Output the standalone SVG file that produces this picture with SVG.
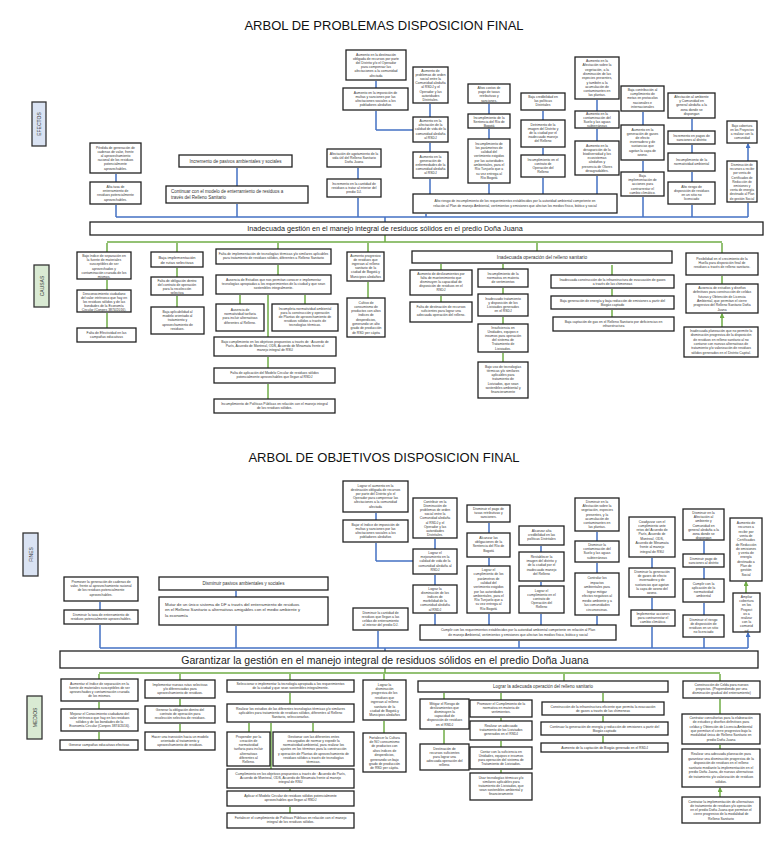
<svg xmlns="http://www.w3.org/2000/svg" width="768" height="866" viewBox="0 0 768 866">
<style>
.b{fill:#fff;stroke:#222;stroke-width:1.3}
.t{font-family:"Liberation Sans",Arial,sans-serif;font-size:3.4px;fill:#333;text-anchor:middle}
.tl{font-family:"Liberation Sans",Arial,sans-serif;fill:#333}
.h{font-family:"Liberation Sans",Arial,sans-serif;font-size:13px;fill:#111;text-anchor:middle}
.lb{fill:#dae3f3;stroke:#333;stroke-width:1.3}
.lg{fill:#d9ead3;stroke:#333;stroke-width:1.3}
.bl{stroke:#4472c4;stroke-width:1.5;fill:none}
.gl{stroke:#70ad47;stroke-width:1.5;fill:none}
.ba{stroke:#4472c4;stroke-width:1.5;fill:none;marker-end:url(#ab)}
.ga{stroke:#70ad47;stroke-width:1.5;fill:none;marker-end:url(#ag)}
</style>
<defs>
<marker id="ab" markerWidth="5" markerHeight="5" refX="4" refY="2.5" orient="auto" markerUnits="userSpaceOnUse"><path d="M0,0 L5,2.5 L0,5 z" fill="#4472c4"/></marker>
<marker id="ag" markerWidth="5" markerHeight="5" refX="4" refY="2.5" orient="auto" markerUnits="userSpaceOnUse"><path d="M0,0 L5,2.5 L0,5 z" fill="#70ad47"/></marker>
</defs>
<rect width="768" height="866" fill="#fff"/>
<text class="h" x="384" y="30">ARBOL DE PROBLEMAS DISPOSICION FINAL</text>
<text class="h" x="384" y="462">ARBOL DE OBJETIVOS DISPOSICION FINAL</text>

<g id="label-efectos"><rect class="lb" x="32" y="102" width="14" height="44"/><text class="tl" font-size="5" text-anchor="middle" transform="translate(41,124) rotate(-90)">EFECTOS</text></g>
<g id="label-causas"><rect class="lg" x="34" y="265" width="15" height="42"/><text class="tl" font-size="5" text-anchor="middle" transform="translate(43.5,286) rotate(-90)">CAUSAS</text></g>
<g id="label-fines"><rect class="lb" x="23" y="533" width="15" height="43"/><text class="tl" font-size="5" text-anchor="middle" transform="translate(32.5,554.5) rotate(-90)">FINES</text></g>
<g id="label-medios"><rect class="lg" x="27" y="696" width="15" height="43"/><text class="tl" font-size="5" text-anchor="middle" transform="translate(36.5,717.5) rotate(-90)">MEDIOS</text></g>

<g id="connectors">
<path class="bl" d="M116,217 H748 M385,222 V217 M376,130 H413"/>
<path class="ba" d="M116,217 V205 M116,182 V174 M237,217 V204 M237,186 V168 M358,217 V198 M358,179 V168 M376,130 V111 M376,88 V81 M426,217 V214 M430,194 V179 M430,152 V143 M430,117 V104 M489,194 V184 M489,139 V129 M489,114 V104 M543,194 V178 M543,155 V148 M543,120 V111 M597,194 V176 M597,141 V129 M597,111 V100 M643,217 V197 M643,172 V161 M643,125 V112 M692,217 V205 M692,182 V172 M692,153 V145 M692,131 V119 M748,217 V203 M748,161 V144"/>
<path class="gl" d="M107,242 H722 M385,235 V242"/>
<path class="ga" d="M107,252 V243 M107,290 V280 M107,328 V313 M177,252 V243 M177,277 V268 M177,307 V296 M278,249 V243 M278,275 V265 M240,304 V295 M305,304 V295 M268,337 V295 M268,368 V357 M268,399 V384 M368,252 V243 M368,298 V282 M537,251 V243 M441,270 V264 M441,302 V296 M503,269 V264 M503,294 V288 M503,324 V317 M503,362 V353 M612,275 V265 M612,296 V289 M612,317 V310 M722,253 V243 M722,284 V276 M722,327 V314"/>
<path class="bl" d="M100,648 H748 M385,651 V648 M376,561 H413"/>
<path class="ba" d="M100,648 V625 M100,610 V602 M236,648 V626 M236,597 V591 M378,648 V631 M376,561 V543 M376,520 V513 M519,648 V641 M435,625 V614 M435,585 V575 M435,549 V539 M489,625 V614 M489,566 V558 M489,533 V523 M541,625 V614 M541,586 V582 M541,552 V546 M597,625 V616 M597,573 V563 M597,541 V532 M652,648 V627 M652,610 V598 M652,568 V558 M704,648 V638 M704,615 V603 M704,579 V568 M704,554 V541 M748,648 V633"/>
<path class="ga" d="M746,593 V582"/>
<path class="gl" d="M99,673 H720 M385,668 V673"/>
<path class="ga" d="M99,679 V674 M99,709 V702 M99,740 V732 M180,680 V674 M180,706 V699 M180,732 V724 M290,680 V674 M290,704 V693 M249,732 V723 M313,732 V723 M271,769 V723 M290,791 V789 M290,813 V807 M384,680 V674 M384,733 V721 M564,681 V674 M444,699 V693 M444,744 V730 M501,700 V693 M501,721 V718 M501,747 V741 M501,773 V770 M603,702 V693 M603,722 V716 M603,743 V736 M720,681 V674 M720,714 V699 M720,749 V745 M720,797 V788"/>
</g>

<g id="A1"><rect class="b" x="90" y="143" width="51" height="30"/><text class="t" x="115.5" y="148.5"><tspan x="115.5">Pérdida de generación de</tspan><tspan x="115.5" dy="4.2">cadenas de valor, frente</tspan><tspan x="115.5" dy="4.2">al aprovechamiento</tspan><tspan x="115.5" dy="4.2">racional de los residuos</tspan><tspan x="115.5" dy="4.2">potencialmente</tspan><tspan x="115.5" dy="4.2">aprovechables.</tspan></text></g>
<g id="A2"><rect class="b" x="90" y="182" width="51" height="22"/><text class="t" x="115.5" y="188"><tspan x="115.5">Alta tasa de</tspan><tspan x="115.5" dy="4.2">enterramiento de</tspan><tspan x="115.5" dy="4.2">residuos potencialmente</tspan><tspan x="115.5" dy="4.2">aprovechables.</tspan></text></g>
<g id="B1"><rect class="b" x="179" y="155" width="113" height="12"/><text class="t" style="font-size:4.5px" x="235.5" y="162.5">Incremento de pasivos ambientales y sociales</text></g>
<g id="B2"><rect class="b" x="166" y="186" width="142" height="17"/><text class="tl" font-size="4.5" x="171" y="193">Continuar con el modelo de enterramiento de residuos a<tspan x="171" dy="5.5">través del Relleno Sanitario</tspan></text></g>
<g id="C1"><rect class="b" x="327" y="149" width="54" height="18"/><text class="t" x="354" y="155"><tspan x="354">Afectación de agotamiento de la</tspan><tspan x="354" dy="4.2">vida útil del Relleno Sanitario</tspan><tspan x="354" dy="4.2">Doña Juana</tspan></text></g>
<g id="C2"><rect class="b" x="327" y="179" width="54" height="18"/><text class="t" x="354" y="185"><tspan x="354">Incremento en la cantidad de</tspan><tspan x="354" dy="4.2">residuos a tratar al interior del</tspan><tspan x="354" dy="4.2">predio DJ.</tspan></text></g>
<g id="D1"><rect class="b" x="346" y="50" width="60" height="30"/><text class="t" x="376" y="55.5"><tspan x="376">Aumento en la destinación</tspan><tspan x="376" dy="4.2">obligada de recursos por parte</tspan><tspan x="376" dy="4.2">del Distrito y/o el Operador</tspan><tspan x="376" dy="4.2">para compensar las</tspan><tspan x="376" dy="4.2">afectaciones a la comunidad</tspan><tspan x="376" dy="4.2">afectada</tspan></text></g>
<g id="D2"><rect class="b" x="343" y="88" width="65" height="22"/><text class="t" x="375.5" y="93.5"><tspan x="375.5">Aumento en la imposición de</tspan><tspan x="375.5" dy="4.2">multas y sanciones por las</tspan><tspan x="375.5" dy="4.2">afectaciones sociales a los</tspan><tspan x="375.5" dy="4.2">pobladores aledaños</tspan></text></g>
<g id="E1"><rect class="b" x="413" y="67" width="35" height="36"/><text class="t" x="430.5" y="71.5"><tspan x="430.5">Aumento de</tspan><tspan x="430.5" dy="4.2">problemas de orden</tspan><tspan x="430.5" dy="4.2">social entre la</tspan><tspan x="430.5" dy="4.2">Comunidad aledaña</tspan><tspan x="430.5" dy="4.2">al RSDJ y el</tspan><tspan x="430.5" dy="4.2">Operador y las</tspan><tspan x="430.5" dy="4.2">autoridades</tspan><tspan x="430.5" dy="4.2">Distritales.</tspan></text></g>
<g id="E2"><rect class="b" x="413" y="117" width="35" height="25"/><text class="t" x="430.5" y="122"><tspan x="430.5">Aumento en la</tspan><tspan x="430.5" dy="4.2">afectación de la</tspan><tspan x="430.5" dy="4.2">calidad de vida de la</tspan><tspan x="430.5" dy="4.2">comunidad aledaña</tspan><tspan x="430.5" dy="4.2">al RSDJ</tspan></text></g>
<g id="E3"><rect class="b" x="413" y="152" width="35" height="26"/><text class="t" x="430.5" y="157.5"><tspan x="430.5">Aumento en la</tspan><tspan x="430.5" dy="4.2">generación de</tspan><tspan x="430.5" dy="4.2">enfermedades de la</tspan><tspan x="430.5" dy="4.2">comunidad aledaña</tspan><tspan x="430.5" dy="4.2">al RSDJ</tspan></text></g>
<g id="F1"><rect class="b" x="468" y="84" width="42" height="19"/><text class="t" x="489" y="89"><tspan x="489">Altos costos de</tspan><tspan x="489" dy="4.2">pago de tasas</tspan><tspan x="489" dy="4.2">retributivas y</tspan><tspan x="489" dy="4.2">sanciones.</tspan></text></g>
<g id="F2"><rect class="b" x="468" y="114" width="42" height="14"/><text class="t" x="489" y="118.5"><tspan x="489">Incumplimiento de la</tspan><tspan x="489" dy="4.2">Sentencia del Río de</tspan><tspan x="489" dy="4.2">Bogotá</tspan></text></g>
<g id="F3"><rect class="b" x="468" y="139" width="42" height="44"/><text class="t" x="489" y="144.5"><tspan x="489">Incumplimiento de</tspan><tspan x="489" dy="4.3">los parámetros de</tspan><tspan x="489" dy="4.3">calidad del</tspan><tspan x="489" dy="4.3">vertimiento exigidos</tspan><tspan x="489" dy="4.3">por las autoridades</tspan><tspan x="489" dy="4.3">ambientales, para el</tspan><tspan x="489" dy="4.3">Río Tunjuelo que a</tspan><tspan x="489" dy="4.3">su vez entrega al</tspan><tspan x="489" dy="4.3">Río Bogotá</tspan></text></g>
<g id="G1"><rect class="b" x="521" y="93" width="44" height="17"/><text class="t" x="543" y="98"><tspan x="543">Baja credibilidad en</tspan><tspan x="543" dy="4.2">las políticas</tspan><tspan x="543" dy="4.2">Distritales</tspan></text></g>
<g id="G2"><rect class="b" x="521" y="120" width="44" height="27"/><text class="t" x="543" y="125.5"><tspan x="543">Detrimento de la</tspan><tspan x="543" dy="4.2">imagen del Distrito y</tspan><tspan x="543" dy="4.2">de la ciudad por el</tspan><tspan x="543" dy="4.2">inadecuado manejo</tspan><tspan x="543" dy="4.2">del Relleno</tspan></text></g>
<g id="G3"><rect class="b" x="521" y="155" width="44" height="22"/><text class="t" x="543" y="160.5"><tspan x="543">Incumplimiento en el</tspan><tspan x="543" dy="4.2">contrato de</tspan><tspan x="543" dy="4.2">Operación del</tspan><tspan x="543" dy="4.2">Relleno</tspan></text></g>
<g id="H1"><rect class="b" x="575" y="57" width="44" height="42"/><text class="t" x="597" y="62"><tspan x="597">Aumento en la</tspan><tspan x="597" dy="4.3">Afectación sobre la</tspan><tspan x="597" dy="4.3">vegetación, a la</tspan><tspan x="597" dy="4.3">disminución de las</tspan><tspan x="597" dy="4.3">especies presentes,</tspan><tspan x="597" dy="4.3">y también a la</tspan><tspan x="597" dy="4.3">acumulación de</tspan><tspan x="597" dy="4.3">contaminantes en</tspan><tspan x="597" dy="4.3">las plantas.</tspan></text></g>
<g id="H2"><rect class="b" x="575" y="111" width="44" height="17"/><text class="t" x="597" y="115.2"><tspan x="597">Aumento en la</tspan><tspan x="597" dy="3.9">contaminación del</tspan><tspan x="597" dy="3.9">Suelo y las aguas</tspan><tspan x="597" dy="3.9">subterráneas</tspan></text></g>
<g id="H3"><rect class="b" x="575" y="141" width="44" height="34"/><text class="t" x="597" y="146.5"><tspan x="597">Aumento en la</tspan><tspan x="597" dy="4.2">desaparición de la</tspan><tspan x="597" dy="4.2">biodiversidad y los</tspan><tspan x="597" dy="4.2">ecosistemas</tspan><tspan x="597" dy="4.2">aledaños y</tspan><tspan x="597" dy="4.2">presencia de Olores</tspan><tspan x="597" dy="4.2">desagradables.</tspan></text></g>
<g id="I1"><rect class="b" x="621" y="86" width="43" height="25"/><text class="t" x="642.5" y="91"><tspan x="642.5">Baja contribución al</tspan><tspan x="642.5" dy="4.2">cumplimiento de</tspan><tspan x="642.5" dy="4.2">metas en protocolos</tspan><tspan x="642.5" dy="4.2">nacionales e</tspan><tspan x="642.5" dy="4.2">internacionales</tspan></text></g>
<g id="I2"><rect class="b" x="621" y="125" width="43" height="35"/><text class="t" x="642.5" y="130.5"><tspan x="642.5">Aumento en la</tspan><tspan x="642.5" dy="4.2">generación de gases</tspan><tspan x="642.5" dy="4.2">de efecto</tspan><tspan x="642.5" dy="4.2">invernadero y de</tspan><tspan x="642.5" dy="4.2">sustancias que</tspan><tspan x="642.5" dy="4.2">agotan la capa de</tspan><tspan x="642.5" dy="4.2">ozono.</tspan></text></g>
<g id="I3"><rect class="b" x="621" y="172" width="43" height="24"/><text class="t" x="642.5" y="177"><tspan x="642.5">Baja</tspan><tspan x="642.5" dy="4.2">implementación de</tspan><tspan x="642.5" dy="4.2">acciones para</tspan><tspan x="642.5" dy="4.2">contrarrestar el</tspan><tspan x="642.5" dy="4.2">cambio climático.</tspan></text></g>
<g id="J1"><rect class="b" x="668" y="93" width="47" height="25"/><text class="t" x="691.5" y="98"><tspan x="691.5">Afectación al ambiente</tspan><tspan x="691.5" dy="4.2">y Comunidad en</tspan><tspan x="691.5" dy="4.2">general aledaña a la</tspan><tspan x="691.5" dy="4.2">zona donde se</tspan><tspan x="691.5" dy="4.2">dispongan</tspan></text></g>
<g id="J2"><rect class="b" x="668" y="131" width="47" height="13"/><text class="t" x="691.5" y="136.5"><tspan x="691.5">Incremento en pagos de</tspan><tspan x="691.5" dy="4.2">sanciones al distrito</tspan></text></g>
<g id="J3"><rect class="b" x="668" y="153" width="47" height="18"/><text class="t" x="691.5" y="161"><tspan x="691.5">Incumplimiento de la</tspan><tspan x="691.5" dy="4.2">normatividad ambiental</tspan></text></g>
<g id="J4"><rect class="b" x="668" y="182" width="47" height="22"/><text class="t" x="691.5" y="187.5"><tspan x="691.5">Alto riesgo de</tspan><tspan x="691.5" dy="4.2">disposición de residuos</tspan><tspan x="691.5" dy="4.2">en un sitio no</tspan><tspan x="691.5" dy="4.2">licenciado</tspan></text></g>
<g id="K1"><rect class="b" x="727" y="121" width="30" height="22"/><text class="t" style="font-size:3.2px" x="742" y="126.5"><tspan x="742">Bajo cobertura</tspan><tspan x="742" dy="4.2">en los Proyectos</tspan><tspan x="742" dy="4.2">a realizar con la</tspan><tspan x="742" dy="4.2">comunidad</tspan></text></g>
<g id="K2"><rect class="b" x="727" y="161" width="30" height="41"/><text class="t" style="font-size:3.2px" x="742" y="166"><tspan x="742">Disminución de</tspan><tspan x="742" dy="4.2">recursos a recibir</tspan><tspan x="742" dy="4.2">por venta de</tspan><tspan x="742" dy="4.2">Certificados de</tspan><tspan x="742" dy="4.2">Reducción de</tspan><tspan x="742" dy="4.2">emisiones y</tspan><tspan x="742" dy="4.2">venta de energía</tspan><tspan x="742" dy="4.2">destinado al Plan</tspan><tspan x="742" dy="4.2">de gestión Social</tspan></text></g>
<g id="L"><rect class="b" x="413" y="194" width="204" height="19"/><text class="t" x="515" y="202"><tspan x="515">Alto riesgo de incumplimiento de los requerimientos establecidos por la autoridad ambiental competente en</tspan><tspan x="515" dy="5">relación al Plan de manejo Ambiental, vertimientos y emisiones que afectan los medios físico, biótico y social</tspan></text></g>
<g id="P0"><rect class="b" x="90" y="222" width="673" height="13"/><text class="t" style="font-size:7.2px;fill:#222" x="385" y="231">Inadecuada gestión en el manejo integral de residuos sólidos en el predio Doña Juana</text></g>

<g id="c1a"><rect class="b" x="77" y="252" width="54" height="27"/><text class="t" x="104" y="257"><tspan x="104">Bajo índice de separación en</tspan><tspan x="104" dy="4.2">la fuente de materiales</tspan><tspan x="104" dy="4.2">susceptibles de ser</tspan><tspan x="104" dy="4.2">aprovechados y</tspan><tspan x="104" dy="4.2">contaminación cruzada de los</tspan><tspan x="104" dy="4.2">mismos.</tspan></text></g>
<g id="c1b"><rect class="b" x="77" y="290" width="54" height="22"/><text class="t" x="104" y="294.5"><tspan x="104">Desconocimiento ciudadano</tspan><tspan x="104" dy="4.2">del valor intrínseco que hay en</tspan><tspan x="104" dy="4.2">los residuos sólidos y de las</tspan><tspan x="104" dy="4.2">bondades de la Economía</tspan><tspan x="104" dy="4.2">Circular (Conpes 3874/2016).</tspan></text></g>
<g id="c1c"><rect class="b" x="77" y="328" width="59" height="14"/><text class="t" x="106.5" y="334"><tspan x="106.5">Falta de Efectividad en las</tspan><tspan x="106.5" dy="4.2">campañas educativas</tspan></text></g>
<g id="c2a"><rect class="b" x="151" y="252" width="52" height="15"/><text class="t" style="font-size:4px" x="177" y="258.5"><tspan x="177">Baja implementación</tspan><tspan x="177" dy="5">de rutas selectivas</tspan></text></g>
<g id="c2b"><rect class="b" x="151" y="277" width="52" height="18"/><text class="t" x="177" y="281.5"><tspan x="177">Falta de obligación dentro</tspan><tspan x="177" dy="4.2">del contrato de operación</tspan><tspan x="177" dy="4.2">para la recolección</tspan><tspan x="177" dy="4.2">selectiva</tspan></text></g>
<g id="c2c"><rect class="b" x="151" y="307" width="53" height="27"/><text class="t" x="177.5" y="313"><tspan x="177.5">Baja aplicabilidad al</tspan><tspan x="177.5" dy="4.2">modelo orientado al</tspan><tspan x="177.5" dy="4.2">tratamiento y</tspan><tspan x="177.5" dy="4.2">aprovechamiento de</tspan><tspan x="177.5" dy="4.2">residuos.</tspan></text></g>
<g id="c3a"><rect class="b" x="216" y="249" width="115" height="15"/><text class="t" x="273.5" y="255"><tspan x="273.5">Falta de implementación de tecnologías térmicas y/o similares aplicables</tspan><tspan x="273.5" dy="4.2">para tratamiento de residuos sólidos, diferentes a Relleno Sanitario</tspan></text></g>
<g id="c3b"><rect class="b" x="216" y="275" width="115" height="19"/><text class="t" x="273.5" y="280.5"><tspan x="273.5">Ausencia de Estudios que nos permitan conocer e implementar</tspan><tspan x="273.5" dy="4.2">tecnologías apropiadas a los requerimientos de la ciudad y que sean</tspan><tspan x="273.5" dy="4.2">sostenibles integralmente.</tspan></text></g>
<g id="c3c"><rect class="b" x="216" y="304" width="48" height="27"/><text class="t" x="240" y="311"><tspan x="240">Ausencia de</tspan><tspan x="240" dy="4.2">normatividad tarifaria</tspan><tspan x="240" dy="4.2">para incluir alternativas</tspan><tspan x="240" dy="4.2">diferentes al Relleno.</tspan></text></g>
<g id="c3d"><rect class="b" x="272" y="304" width="66" height="27"/><text class="t" x="305" y="309.5"><tspan x="305">Incompleta normatividad ambiental</tspan><tspan x="305" dy="4.2">para la construcción y operación</tspan><tspan x="305" dy="4.2">de Plantas de aprovechamiento de</tspan><tspan x="305" dy="4.2">residuos sólidos a través de</tspan><tspan x="305" dy="4.2">tecnologías térmicas.</tspan></text></g>
<g id="c3e"><rect class="b" x="214" y="337" width="122" height="19"/><text class="t" x="275" y="342.5"><tspan x="275">Bajo cumplimiento en los objetivos propuestos a través de : Acuerdo de</tspan><tspan x="275" dy="4.2">París, Acuerdo de Montreal, ODS, Acuerdo de Minamata frente al</tspan><tspan x="275" dy="4.2">manejo integral de RSU</tspan></text></g>
<g id="c3f"><rect class="b" x="214" y="368" width="121" height="15"/><text class="t" x="274.5" y="374"><tspan x="274.5">Falta de aplicación del Modelo Circular de residuos sólidos</tspan><tspan x="274.5" dy="4.2">potencialmente aprovechables que llegan al RSDJ</tspan></text></g>
<g id="c3g"><rect class="b" x="214" y="399" width="121" height="14"/><text class="t" x="274.5" y="404.5"><tspan x="274.5">Incumplimiento de Políticas Públicas en relación con el manejo integral</tspan><tspan x="274.5" dy="4.2">de los residuos sólidos.</tspan></text></g>
<g id="c4a"><rect class="b" x="347" y="252" width="37" height="29"/><text class="t" x="365.5" y="256.5"><tspan x="365.5">Aumento progresivo</tspan><tspan x="365.5" dy="4.2">de residuos que</tspan><tspan x="365.5" dy="4.2">ingresan al relleno</tspan><tspan x="365.5" dy="4.2">sanitario de la</tspan><tspan x="365.5" dy="4.2">ciudad de Bogotá y</tspan><tspan x="365.5" dy="4.2">Municipios aledaños</tspan></text></g>
<g id="c4b"><rect class="b" x="347" y="298" width="38" height="39"/><text class="t" x="366" y="303.5"><tspan x="366">Cultivo de</tspan><tspan x="366" dy="4.3">consumismo de</tspan><tspan x="366" dy="4.3">productos con altos</tspan><tspan x="366" dy="4.3">índices de</tspan><tspan x="366" dy="4.3">desperdicios,</tspan><tspan x="366" dy="4.3">generando un alto</tspan><tspan x="366" dy="4.3">grado de producción</tspan><tspan x="366" dy="4.3">de RSD per cápita</tspan></text></g>
<g id="c5"><rect class="b" x="412" y="251" width="260" height="12"/><text class="t" style="font-size:4.8px" x="542" y="258.5">Inadecuada operación del relleno sanitario</text></g>
<g id="c5a"><rect class="b" x="410" y="270" width="62" height="25"/><text class="t" x="441" y="274.5"><tspan x="441">Aumento de deslizamientos por</tspan><tspan x="441" dy="4.2">falta de mantenimiento que</tspan><tspan x="441" dy="4.2">disminuyen la capacidad de</tspan><tspan x="441" dy="4.2">disposición de residuos en el</tspan><tspan x="441" dy="4.2">RSDJ</tspan></text></g>
<g id="c5b"><rect class="b" x="410" y="302" width="62" height="20"/><text class="t" x="441" y="308"><tspan x="441">Falta de destinación de recursos</tspan><tspan x="441" dy="4.2">suficientes para lograr una</tspan><tspan x="441" dy="4.2">adecuada operación del relleno.</tspan></text></g>
<g id="c5c"><rect class="b" x="478" y="269" width="50" height="18"/><text class="t" x="503" y="274.5"><tspan x="503">Incumplimiento de la</tspan><tspan x="503" dy="4.2">normativa en materia</tspan><tspan x="503" dy="4.2">de vertimientos</tspan></text></g>
<g id="c5d"><rect class="b" x="478" y="294" width="50" height="22"/><text class="t" x="503" y="299.5"><tspan x="503">Inadecuado tratamiento</tspan><tspan x="503" dy="4.2">y disposición de los</tspan><tspan x="503" dy="4.2">Lixiviados generados</tspan><tspan x="503" dy="4.2">en el RSDJ</tspan></text></g>
<g id="c5e"><rect class="b" x="478" y="324" width="50" height="28"/><text class="t" x="503" y="328.5"><tspan x="503">Insuficiencia en</tspan><tspan x="503" dy="4.2">Unidades, equipos e</tspan><tspan x="503" dy="4.2">insumos para operación</tspan><tspan x="503" dy="4.2">del sistema de</tspan><tspan x="503" dy="4.2">Tratamiento de</tspan><tspan x="503" dy="4.2">Lixiviados.</tspan></text></g>
<g id="c5f"><rect class="b" x="478" y="362" width="50" height="36"/><text class="t" x="503" y="367.5"><tspan x="503">Bajo uso de tecnologías</tspan><tspan x="503" dy="4.3">térmicas y/o similares</tspan><tspan x="503" dy="4.3">aplicables para</tspan><tspan x="503" dy="4.3">tratamiento de</tspan><tspan x="503" dy="4.3">Lixiviados, que sean</tspan><tspan x="503" dy="4.3">sostenibles ambiental y</tspan><tspan x="503" dy="4.3">financieramente</tspan></text></g>
<g id="c5g"><rect class="b" x="551" y="275" width="123" height="13"/><text class="t" x="612.5" y="280.5"><tspan x="612.5">Inadecuada construcción de la infraestructura de evacuación de gases</tspan><tspan x="612.5" dy="4.2">a través de las chimeneas</tspan></text></g>
<g id="c5h"><rect class="b" x="551" y="296" width="123" height="13"/><text class="t" x="612.5" y="301.5"><tspan x="612.5">Baja generación de energía y baja reducción de emisiones a partir del</tspan><tspan x="612.5" dy="4.2">Biogás captado</tspan></text></g>
<g id="c5i"><rect class="b" x="553" y="317" width="121" height="14"/><text class="t" x="613.5" y="323"><tspan x="613.5">Baja captación de gas en el Relleno Sanitario por deficiencias en</tspan><tspan x="613.5" dy="4.2">infraestructura</tspan></text></g>
<g id="c6a"><rect class="b" x="686" y="253" width="72" height="22"/><text class="t" x="722" y="260"><tspan x="722">Posibilidad en el crecimiento de la</tspan><tspan x="722" dy="4.2">Huella para disposición final de</tspan><tspan x="722" dy="4.2">residuos a través de relleno sanitario.</tspan></text></g>
<g id="c6b"><rect class="b" x="686" y="284" width="72" height="29"/><text class="t" x="722" y="289"><tspan x="722">Ausencia de estudios y diseños</tspan><tspan x="722" dy="4.3">definitivos para construcción de celdas</tspan><tspan x="722" dy="4.3">futuras y Obtención de Licencia</tspan><tspan x="722" dy="4.3">Ambiental, que permitan el cierre</tspan><tspan x="722" dy="4.3">progresivo del Relleno Sanitario Doña</tspan><tspan x="722" dy="4.3">Juana</tspan></text></g>
<g id="c6c"><rect class="b" x="684" y="327" width="74" height="30"/><text class="t" x="721" y="332"><tspan x="721">Inadecuada planeación que no permite la</tspan><tspan x="721" dy="4.3">disminución progresiva de la disposición</tspan><tspan x="721" dy="4.3">de residuos en relleno sanitario al no</tspan><tspan x="721" dy="4.3">contarse con nuevas alternativas de</tspan><tspan x="721" dy="4.3">tratamiento y/o valorización de residuos</tspan><tspan x="721" dy="4.3">sólidos generados en el Distrito Capital.</tspan></text></g>

<g id="f1a"><rect class="b" x="64" y="577" width="74" height="24"/><text class="t" x="101" y="583"><tspan x="101">Promover la generación de cadenas de</tspan><tspan x="101" dy="4.2">valor, frente al aprovechamiento racional</tspan><tspan x="101" dy="4.2">de los residuos potencialmente</tspan><tspan x="101" dy="4.2">aprovechables.</tspan></text></g>
<g id="f1b"><rect class="b" x="64" y="610" width="74" height="14"/><text class="t" x="101" y="616"><tspan x="101">Disminuir la tasa de enterramiento de</tspan><tspan x="101" dy="4.2">residuos potencialmente aprovechables.</tspan></text></g>
<g id="f2a"><rect class="b" x="159" y="577" width="169" height="13"/><text class="t" style="font-size:4.5px" x="243.5" y="585">Disminuir pasivos ambientales y sociales</text></g>
<g id="f2b"><rect class="b" x="159" y="597" width="169" height="28"/><text class="tl" font-size="4.2" x="165" y="606"><tspan x="165">Mutar de un único sistema de DF a través del enterramiento de residuos</tspan><tspan x="165" dy="5.3">en el Relleno Sanitario a alternativas amigables con el medio ambiente y</tspan><tspan x="165" dy="5.3">la economía</tspan></text></g>
<g id="f3b"><rect class="b" x="353" y="608" width="55" height="22"/><text class="t" x="380.5" y="613.5"><tspan x="380.5">Disminuir la cantidad de</tspan><tspan x="380.5" dy="4.2">residuos que llegan a las</tspan><tspan x="380.5" dy="4.2">celdas de enterramiento</tspan><tspan x="380.5" dy="4.2">al interior del predio DJ.</tspan></text></g>
<g id="f4a"><rect class="b" x="343" y="481" width="65" height="31"/><text class="t" x="375.5" y="486.5"><tspan x="375.5">Lograr el aumento en la</tspan><tspan x="375.5" dy="4.2">destinación obligada de recursos</tspan><tspan x="375.5" dy="4.2">por parte del Distrito y/o el</tspan><tspan x="375.5" dy="4.2">Operador para compensar las</tspan><tspan x="375.5" dy="4.2">afectaciones a la comunidad</tspan><tspan x="375.5" dy="4.2">afectada</tspan></text></g>
<g id="f4b"><rect class="b" x="343" y="520" width="65" height="22"/><text class="t" x="375.5" y="525.5"><tspan x="375.5">Bajar el índice de imposición de</tspan><tspan x="375.5" dy="4.2">multas y sanciones por las</tspan><tspan x="375.5" dy="4.2">afectaciones sociales a los</tspan><tspan x="375.5" dy="4.2">pobladores aledaños</tspan></text></g>
<g id="f5a"><rect class="b" x="413" y="498" width="44" height="40"/><text class="t" x="435" y="502.5"><tspan x="435">Contribuir en la</tspan><tspan x="435" dy="4.2">Disminución de</tspan><tspan x="435" dy="4.2">problemas de orden</tspan><tspan x="435" dy="4.2">social entre la</tspan><tspan x="435" dy="4.2">Comunidad aledaña</tspan><tspan x="435" dy="4.2">al RSDJ y el</tspan><tspan x="435" dy="4.2">Operador y las</tspan><tspan x="435" dy="4.2">autoridades</tspan><tspan x="435" dy="4.2">Distritales.</tspan></text></g>
<g id="f5b"><rect class="b" x="413" y="549" width="44" height="25"/><text class="t" x="435" y="554"><tspan x="435">Lograr el</tspan><tspan x="435" dy="4.2">mejoramiento en la</tspan><tspan x="435" dy="4.2">calidad de vida de la</tspan><tspan x="435" dy="4.2">comunidad aledaña al</tspan><tspan x="435" dy="4.2">RSDJ</tspan></text></g>
<g id="f5c"><rect class="b" x="413" y="585" width="44" height="28"/><text class="t" x="435" y="589.5"><tspan x="435">Lograr la</tspan><tspan x="435" dy="4.2">disminución de los</tspan><tspan x="435" dy="4.2">índices de</tspan><tspan x="435" dy="4.2">morbilidad de la</tspan><tspan x="435" dy="4.2">comunidad aledaña</tspan><tspan x="435" dy="4.2">al RSDJ</tspan></text></g>
<g id="f6a"><rect class="b" x="467" y="505" width="43" height="17"/><text class="t" x="488.5" y="510"><tspan x="488.5">Disminuir el pago de</tspan><tspan x="488.5" dy="4.2">tasas retributivas y</tspan><tspan x="488.5" dy="4.2">sanciones.</tspan></text></g>
<g id="f6b"><rect class="b" x="467" y="533" width="43" height="24"/><text class="t" x="488.5" y="539"><tspan x="488.5">Alcanzar las</tspan><tspan x="488.5" dy="4.2">obligaciones de la</tspan><tspan x="488.5" dy="4.2">Sentencia del Río de</tspan><tspan x="488.5" dy="4.2">Bogotá</tspan></text></g>
<g id="f6c"><rect class="b" x="467" y="566" width="43" height="47"/><text class="t" x="488.5" y="571"><tspan x="488.5">Lograr el</tspan><tspan x="488.5" dy="4.3">cumplimiento de los</tspan><tspan x="488.5" dy="4.3">parámetros de</tspan><tspan x="488.5" dy="4.3">calidad del</tspan><tspan x="488.5" dy="4.3">vertimiento exigidos</tspan><tspan x="488.5" dy="4.3">por las autoridades</tspan><tspan x="488.5" dy="4.3">ambientales, para el</tspan><tspan x="488.5" dy="4.3">Río Tunjuelo que a</tspan><tspan x="488.5" dy="4.3">su vez entrega al</tspan><tspan x="488.5" dy="4.3">Río Bogotá</tspan></text></g>
<g id="f7a"><rect class="b" x="519" y="526" width="45" height="19"/><text class="t" x="541.5" y="531.5"><tspan x="541.5">Alcanzar alta</tspan><tspan x="541.5" dy="4.2">credibilidad en las</tspan><tspan x="541.5" dy="4.2">políticas Distritales</tspan></text></g>
<g id="f7b"><rect class="b" x="519" y="552" width="45" height="29"/><text class="t" x="541.5" y="558"><tspan x="541.5">Restablecer la</tspan><tspan x="541.5" dy="4.2">imagen del distrito y</tspan><tspan x="541.5" dy="4.2">de la ciudad por el</tspan><tspan x="541.5" dy="4.2">inadecuado manejo</tspan><tspan x="541.5" dy="4.2">del Relleno</tspan></text></g>
<g id="f7c"><rect class="b" x="519" y="586" width="45" height="27"/><text class="t" x="541.5" y="591.5"><tspan x="541.5">Lograr el</tspan><tspan x="541.5" dy="4.2">cumplimiento en el</tspan><tspan x="541.5" dy="4.2">contrato de</tspan><tspan x="541.5" dy="4.2">Operación del</tspan><tspan x="541.5" dy="4.2">Relleno</tspan></text></g>
<g id="f8a"><rect class="b" x="575" y="498" width="44" height="33"/><text class="t" x="597" y="503"><tspan x="597">Disminuir en la</tspan><tspan x="597" dy="4.2">Afectación sobre la</tspan><tspan x="597" dy="4.2">vegetación, especies</tspan><tspan x="597" dy="4.2">presentes, y la</tspan><tspan x="597" dy="4.2">acumulación de</tspan><tspan x="597" dy="4.2">contaminantes en</tspan><tspan x="597" dy="4.2">las plantas.</tspan></text></g>
<g id="f8b"><rect class="b" x="575" y="541" width="44" height="21"/><text class="t" x="597" y="546"><tspan x="597">Disminuir la</tspan><tspan x="597" dy="4.2">contaminación del</tspan><tspan x="597" dy="4.2">Suelo y las aguas</tspan><tspan x="597" dy="4.2">subterráneas</tspan></text></g>
<g id="f8c"><rect class="b" x="575" y="573" width="44" height="42"/><text class="t" x="597" y="579"><tspan x="597">Controlar los</tspan><tspan x="597" dy="4.5">impactos</tspan><tspan x="597" dy="4.5">ambientales para</tspan><tspan x="597" dy="4.5">lograr mitigar</tspan><tspan x="597" dy="4.5">efectos negativos al</tspan><tspan x="597" dy="4.5">medio ambiente y a</tspan><tspan x="597" dy="4.5">las comunidades</tspan><tspan x="597" dy="4.5">circunvecinas.</tspan></text></g>
<g id="f9a"><rect class="b" x="629" y="517" width="46" height="40"/><text class="t" x="652" y="522.5"><tspan x="652">Coadyuvar con el</tspan><tspan x="652" dy="4.3">cumplimiento ante</tspan><tspan x="652" dy="4.3">retos del Acuerdo de</tspan><tspan x="652" dy="4.3">París, Acuerdo de</tspan><tspan x="652" dy="4.3">Montreal, ODS,</tspan><tspan x="652" dy="4.3">Acuerdo de Minamata</tspan><tspan x="652" dy="4.3">frente al manejo</tspan><tspan x="652" dy="4.3">integral de RSU</tspan></text></g>
<g id="f9b"><rect class="b" x="629" y="568" width="46" height="29"/><text class="t" x="652" y="573"><tspan x="652">Disminuir la generación</tspan><tspan x="652" dy="4.2">de gases de efecto</tspan><tspan x="652" dy="4.2">invernadero y de</tspan><tspan x="652" dy="4.2">sustancias que agotan</tspan><tspan x="652" dy="4.2">la capa de ozono del</tspan><tspan x="652" dy="4.2">ozono.</tspan></text></g>
<g id="f9c"><rect class="b" x="631" y="610" width="44" height="16"/><text class="t" x="653" y="615"><tspan x="653">Implementar acciones</tspan><tspan x="653" dy="4.2">para contrarrestar el</tspan><tspan x="653" dy="4.2">cambio climático.</tspan></text></g>
<g id="f10a"><rect class="b" x="683" y="509" width="41" height="31"/><text class="t" x="703.5" y="514"><tspan x="703.5">Disminuir en la</tspan><tspan x="703.5" dy="4.2">Afectación al</tspan><tspan x="703.5" dy="4.2">ambiente y</tspan><tspan x="703.5" dy="4.2">Comunidad en</tspan><tspan x="703.5" dy="4.2">general aledaña a la</tspan><tspan x="703.5" dy="4.2">zona donde se</tspan><tspan x="703.5" dy="4.2">dispongan</tspan></text></g>
<g id="f10b"><rect class="b" x="683" y="554" width="41" height="13"/><text class="t" x="703.5" y="559.5"><tspan x="703.5">Disminuir pago de</tspan><tspan x="703.5" dy="4.2">sanciones al distrito</tspan></text></g>
<g id="f10c"><rect class="b" x="683" y="579" width="41" height="23"/><text class="t" x="703.5" y="584.5"><tspan x="703.5">Cumplir con la</tspan><tspan x="703.5" dy="4.2">aplicación de la</tspan><tspan x="703.5" dy="4.2">normatividad</tspan><tspan x="703.5" dy="4.2">ambiental</tspan></text></g>
<g id="f10d"><rect class="b" x="683" y="615" width="41" height="22"/><text class="t" x="703.5" y="620.5"><tspan x="703.5">Disminuir el riesgo</tspan><tspan x="703.5" dy="4.2">de disposición de</tspan><tspan x="703.5" dy="4.2">residuos en un sitio</tspan><tspan x="703.5" dy="4.2">no licenciado</tspan></text></g>
<g id="f11a"><rect class="b" x="730" y="518" width="32" height="63"/><text class="t" x="746" y="524"><tspan x="746">Aumento de</tspan><tspan x="746" dy="4.3">recursos a</tspan><tspan x="746" dy="4.3">recibir por</tspan><tspan x="746" dy="4.3">venta de</tspan><tspan x="746" dy="4.3">Certificados</tspan><tspan x="746" dy="4.3">de Reducción</tspan><tspan x="746" dy="4.3">de emisiones</tspan><tspan x="746" dy="4.3">y venta de</tspan><tspan x="746" dy="4.3">energía</tspan><tspan x="746" dy="4.3">destinado a</tspan><tspan x="746" dy="4.3">Plan de</tspan><tspan x="746" dy="4.3">gestión</tspan><tspan x="746" dy="4.3">Social</tspan></text></g>
<g id="f11b"><rect class="b" x="733" y="593" width="27" height="39"/><text class="t" x="746.5" y="598"><tspan x="746.5">Ampliar</tspan><tspan x="746.5" dy="4.2">cobertura</tspan><tspan x="746.5" dy="4.2">en los</tspan><tspan x="746.5" dy="4.2">Proyect</tspan><tspan x="746.5" dy="4.2">os a</tspan><tspan x="746.5" dy="4.2">realizar</tspan><tspan x="746.5" dy="4.2">con la</tspan><tspan x="746.5" dy="4.2">comunid</tspan><tspan x="746.5" dy="4.2">ad</tspan></text></g>
<g id="fW"><rect class="b" x="420" y="625" width="196" height="15"/><text class="t" x="518" y="631"><tspan x="518">Cumplir con los requerimientos establecidos por la autoridad ambiental competente en relación al Plan</tspan><tspan x="518" dy="4.6">de manejo Ambiental, vertimientos y emisiones que afectan los medios físico, biótico y social</tspan></text></g>
<g id="O0"><rect class="b" x="60" y="651" width="698" height="17"/><text class="t" style="font-size:10.5px;fill:#222" x="385" y="663.5">Garantizar la gestión en el manejo integral de residuos sólidos en el predio Doña Juana</text></g>

<g id="m1a"><rect class="b" x="61" y="679" width="77" height="22"/><text class="t" x="99.5" y="684.5"><tspan x="99.5">Aumentar el índice de separación en la</tspan><tspan x="99.5" dy="4.2">fuente de materiales susceptibles de ser</tspan><tspan x="99.5" dy="4.2">aprovechados y contaminación cruzada</tspan><tspan x="99.5" dy="4.2">de los mismos.</tspan></text></g>
<g id="m1b"><rect class="b" x="61" y="709" width="77" height="22"/><text class="t" x="99.5" y="714.5"><tspan x="99.5">Mejorar el Conocimiento ciudadano del</tspan><tspan x="99.5" dy="4.2">valor intrínseco que hay en los residuos</tspan><tspan x="99.5" dy="4.2">sólidos y de las bondades de la</tspan><tspan x="99.5" dy="4.2">Economía Circular (Conpes 3874/2016).</tspan></text></g>
<g id="m1c"><rect class="b" x="60" y="740" width="78" height="10"/><text class="t" x="99" y="746.2">Generar campañas educativas efectivas</text></g>
<g id="m2a"><rect class="b" x="145" y="680" width="70" height="18"/><text class="t" x="180" y="685.5"><tspan x="180">Implementar nuevas rutas selectivas</tspan><tspan x="180" dy="4.2">y/o diferenciadas para</tspan><tspan x="180" dy="4.2">aprovechamiento de residuos.</tspan></text></g>
<g id="m2b"><rect class="b" x="145" y="706" width="70" height="17"/><text class="t" x="180" y="711"><tspan x="180">Generar la obligación dentro del</tspan><tspan x="180" dy="4.2">contrato de operación para</tspan><tspan x="180" dy="4.2">recolección selectiva de residuos.</tspan></text></g>
<g id="m2c"><rect class="b" x="145" y="732" width="70" height="18"/><text class="t" x="180" y="737.5"><tspan x="180">Hacer una transición hacia un modelo</tspan><tspan x="180" dy="4.2">orientado al tratamiento y</tspan><tspan x="180" dy="4.2">aprovechamiento de residuos.</tspan></text></g>
<g id="m3a"><rect class="b" x="227" y="680" width="127" height="12"/><text class="t" x="290.5" y="685"><tspan x="290.5">Seleccionar e implementar la tecnología apropiada a los requerimientos</tspan><tspan x="290.5" dy="4.2">de la ciudad y que sean sostenibles integralmente.</tspan></text></g>
<g id="m3b"><rect class="b" x="227" y="704" width="127" height="18"/><text class="t" x="290.5" y="709.5"><tspan x="290.5">Realizar los estudios de las diferentes tecnologías térmicas y/o similares</tspan><tspan x="290.5" dy="4.2">aplicables para tratamiento de residuos sólidos, diferentes al Relleno</tspan><tspan x="290.5" dy="4.2">Sanitario, seleccionarlas.</tspan></text></g>
<g id="m3c"><rect class="b" x="227" y="732" width="43" height="34"/><text class="t" x="248.5" y="737.5"><tspan x="248.5">Propender por la</tspan><tspan x="248.5" dy="4.3">creación de</tspan><tspan x="248.5" dy="4.3">normatividad</tspan><tspan x="248.5" dy="4.3">tarifaria para incluir</tspan><tspan x="248.5" dy="4.3">alternativas</tspan><tspan x="248.5" dy="4.3">diferentes al</tspan><tspan x="248.5" dy="4.3">Relleno.</tspan></text></g>
<g id="m3d"><rect class="b" x="273" y="732" width="81" height="34"/><text class="t" x="313.5" y="737.5"><tspan x="313.5">Gestionar con las diferentes entes</tspan><tspan x="313.5" dy="4.3">encargados de normar y expedir la</tspan><tspan x="313.5" dy="4.3">normatividad ambiental, para realizar los</tspan><tspan x="313.5" dy="4.3">ajustes en los términos para la construcción</tspan><tspan x="313.5" dy="4.3">y operación de Plantas de aprovechamiento de</tspan><tspan x="313.5" dy="4.3">residuos sólidos a través de tecnologías</tspan><tspan x="313.5" dy="4.3">térmicas.</tspan></text></g>
<g id="m3e"><rect class="b" x="227" y="769" width="127" height="19"/><text class="t" x="290.5" y="774.5"><tspan x="290.5">Cumplimiento en los objetivos propuestos a través de : Acuerdo de París,</tspan><tspan x="290.5" dy="4.2">Acuerdo de Montreal, ODS, Acuerdo de Minamata frente al manejo</tspan><tspan x="290.5" dy="4.2">integral de RSU</tspan></text></g>
<g id="m3f"><rect class="b" x="227" y="791" width="127" height="15"/><text class="t" x="290.5" y="797"><tspan x="290.5">Aplicar el Modelo Circular de residuos sólidos potencialmente</tspan><tspan x="290.5" dy="4.2">aprovechables que llegan al RSDJ</tspan></text></g>
<g id="m3g"><rect class="b" x="227" y="813" width="127" height="15"/><text class="t" x="290.5" y="819"><tspan x="290.5">Fortalecer el cumplimiento de Políticas Públicas en relación con el manejo</tspan><tspan x="290.5" dy="4.2">integral de los residuos sólidos.</tspan></text></g>
<g id="m4a"><rect class="b" x="363" y="680" width="43" height="40"/><text class="t" x="384.5" y="685.5"><tspan x="384.5">Lograr la</tspan><tspan x="384.5" dy="4.4">disminución</tspan><tspan x="384.5" dy="4.4">progresiva de los</tspan><tspan x="384.5" dy="4.4">residuos que</tspan><tspan x="384.5" dy="4.4">ingresan al relleno</tspan><tspan x="384.5" dy="4.4">sanitario de la</tspan><tspan x="384.5" dy="4.4">ciudad de Bogotá y</tspan><tspan x="384.5" dy="4.4">Municipios aledaños</tspan></text></g>
<g id="m4b"><rect class="b" x="363" y="733" width="43" height="39"/><text class="t" x="384.5" y="738.5"><tspan x="384.5">Fortalecer la Cultura</tspan><tspan x="384.5" dy="4.4">de NO consumismo</tspan><tspan x="384.5" dy="4.4">de productos con</tspan><tspan x="384.5" dy="4.4">altos índices de</tspan><tspan x="384.5" dy="4.4">desperdicios,</tspan><tspan x="384.5" dy="4.4">generando un bajo</tspan><tspan x="384.5" dy="4.4">grado de producción</tspan><tspan x="384.5" dy="4.4">de RSD per cápita.</tspan></text></g>
<g id="m5"><rect class="b" x="418" y="681" width="250" height="11"/><text class="t" style="font-size:4.5px" x="543" y="688.2">Lograr la adecuada operación del relleno sanitario</text></g>
<g id="m5a"><rect class="b" x="420" y="699" width="49" height="30"/><text class="t" x="444.5" y="704.5"><tspan x="444.5">Mitigar el Riesgo de</tspan><tspan x="444.5" dy="4.2">deslizamientos que</tspan><tspan x="444.5" dy="4.2">disminuyen la</tspan><tspan x="444.5" dy="4.2">capacidad de</tspan><tspan x="444.5" dy="4.2">disposición de residuos</tspan><tspan x="444.5" dy="4.2">en el RSDJ</tspan></text></g>
<g id="m5b"><rect class="b" x="420" y="744" width="49" height="26"/><text class="t" x="444.5" y="749.5"><tspan x="444.5">Destinación de</tspan><tspan x="444.5" dy="4.2">recursos suficientes</tspan><tspan x="444.5" dy="4.2">para lograr una</tspan><tspan x="444.5" dy="4.2">adecuada operación del</tspan><tspan x="444.5" dy="4.2">relleno.</tspan></text></g>
<g id="m5c"><rect class="b" x="470" y="700" width="62" height="17"/><text class="t" x="501" y="705"><tspan x="501">Promover el Cumplimiento de la</tspan><tspan x="501" dy="4.2">normativa en materia de</tspan><tspan x="501" dy="4.2">vertimientos.</tspan></text></g>
<g id="m5d"><rect class="b" x="470" y="721" width="62" height="19"/><text class="t" x="501" y="726.5"><tspan x="501">Realizar un adecuado</tspan><tspan x="501" dy="4.2">tratamiento de los Lixiviados</tspan><tspan x="501" dy="4.2">generados en el RSDJ</tspan></text></g>
<g id="m5e"><rect class="b" x="470" y="747" width="62" height="22"/><text class="t" x="501" y="752.5"><tspan x="501">Contar con la suficiencia en</tspan><tspan x="501" dy="4.2">Unidades, equipos e insumos</tspan><tspan x="501" dy="4.2">para operación del sistema de</tspan><tspan x="501" dy="4.2">Tratamiento de Lixiviados.</tspan></text></g>
<g id="m5f"><rect class="b" x="470" y="773" width="62" height="27"/><text class="t" x="501" y="778.5"><tspan x="501">Usar tecnologías térmicas y/o</tspan><tspan x="501" dy="4.2">similares aplicables para</tspan><tspan x="501" dy="4.2">tratamiento de Lixiviados, que</tspan><tspan x="501" dy="4.2">sean sostenibles ambiental y</tspan><tspan x="501" dy="4.2">financieramente</tspan></text></g>
<g id="m5g"><rect class="b" x="542" y="702" width="122" height="13"/><text class="t" x="603" y="707.5"><tspan x="603">Construcción de la infraestructura eficiente que permita la evacuación</tspan><tspan x="603" dy="4.2">de gases a través de las chimeneas</tspan></text></g>
<g id="m5h"><rect class="b" x="541" y="722" width="127" height="13"/><text class="t" x="604.5" y="727.5"><tspan x="604.5">Continuar la generación de energía y reducción de emisiones a partir del</tspan><tspan x="604.5" dy="4.2">Biogás captado</tspan></text></g>
<g id="m5i"><rect class="b" x="541" y="743" width="127" height="9"/><text class="t" x="604.5" y="748.7">Aumento de la captación de Biogás generado en el RSDJ</text></g>
<g id="m6a"><rect class="b" x="683" y="681" width="77" height="17"/><text class="t" x="721.5" y="686"><tspan x="721.5">Construcción de Celda para nuevos</tspan><tspan x="721.5" dy="4.2">proyectos. (Propendiendo por una</tspan><tspan x="721.5" dy="4.2">disminución gradual del enterramiento)</tspan></text></g>
<g id="m6b"><rect class="b" x="682" y="714" width="78" height="30"/><text class="t" x="721" y="719"><tspan x="721">Contratar consultorías para la elaboración</tspan><tspan x="721" dy="4.3">de estudios y diseños definitivos para</tspan><tspan x="721" dy="4.3">celdas y Obtención de Licencia Ambiental</tspan><tspan x="721" dy="4.3">que permitan el cierre progresivo bajo la</tspan><tspan x="721" dy="4.3">modalidad única de Relleno Sanitario en</tspan><tspan x="721" dy="4.3">predio Doña Juana</tspan></text></g>
<g id="m6c"><rect class="b" x="682" y="749" width="78" height="38"/><text class="t" x="721" y="755"><tspan x="721">Realizar una adecuada planeación para</tspan><tspan x="721" dy="4.6">garantizar una disminución progresiva de la</tspan><tspan x="721" dy="4.6">disposición de residuos en el relleno</tspan><tspan x="721" dy="4.6">sanitario mediante la implementación en el</tspan><tspan x="721" dy="4.6">predio Doña Juana, de nuevas alternativas</tspan><tspan x="721" dy="4.6">de tratamiento y/o valorización de residuos</tspan><tspan x="721" dy="4.6">sólidos.</tspan></text></g>
<g id="m6d"><rect class="b" x="682" y="797" width="78" height="26"/><text class="t" x="721" y="802.5"><tspan x="721">Contratar la implementación de alternativas</tspan><tspan x="721" dy="4.3">de tratamiento de residuos y/o operación</tspan><tspan x="721" dy="4.3">en el predio Doña Juana que permitan el</tspan><tspan x="721" dy="4.3">cierre progresivo de la modalidad de</tspan><tspan x="721" dy="4.3">Relleno Sanitario</tspan></text></g>
</svg>
